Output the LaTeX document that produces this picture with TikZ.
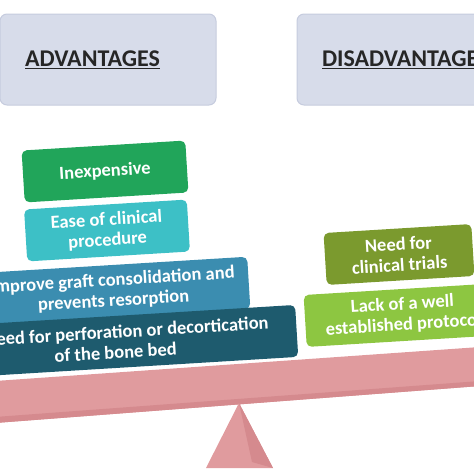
\documentclass[tikz,border=0pt]{standalone}
\usepackage{fontspec}
\setmainfont{Carlito}
\definecolor{headfill}{HTML}{D7DCEA}
\definecolor{headline}{HTML}{C6CCDE}
\definecolor{inexp}{HTML}{21A55A}
\definecolor{ease}{HTML}{3DC0C6}
\definecolor{graft}{HTML}{3B8DB0}
\definecolor{perfo}{HTML}{1E5B6E}
\definecolor{trial}{HTML}{7B9A2E}
\definecolor{proto}{HTML}{8DC641}
\definecolor{beam}{HTML}{E09B9E}
\definecolor{beamdark}{HTML}{D58A8E}
\begin{document}
\begin{tikzpicture}[x=1pt, y=-1pt,
  head/.style={draw=headline, fill=headfill, line width=1pt, rounded corners=7pt,
    text width=166pt, inner xsep=25pt, align=left, minimum height=91pt,
    font=\fontsize{24}{28}\selectfont\bfseries, text=black!85},
  card/.style={rounded corners=5pt, text=white, rotate=3.5, inner sep=0pt, align=center,
    font=\fontsize{18.5}{20.5}\selectfont\bfseries, minimum height=52pt}]
\useasboundingbox (0,0) rectangle (474,474);
\clip (0,0) rectangle (474,474);

\node[head] (adv) at (108,59.5) {\underline{ADVANTAGES}};
\node[head] (dis) at (405,59.5) {\underline{DISADVANTAGES}};

% balance
\fill[beam] (-5,381) -- (480,347) -- (480,386) -- (-5,423) -- cycle;
\fill[beamdark] (-5,417) -- (480,381) -- (480,386) -- (-5,423) -- cycle;
\fill[beam] (206,468) -- (273,468) -- (239,403) -- cycle;
\fill[beamdark] (239,403) -- (273,468) -- (252,462) -- cycle;

% advantages
\node[card, fill=inexp, minimum width=164pt] (inexp) at (105,171.5) {Inexpensive};
\node[card, fill=ease, minimum width=163pt] (ease) at (107,230.5) {Ease of clinical\\procedure};
\node[card, fill=graft, minimum width=272pt] (graft) at (113,291) {Improve graft consolidation and\\prevents resorption};
\node[card, fill=perfo, minimum width=364pt] (perfo) at (115,342) {No need for perforation or decortication\\of the bone bed};

% disadvantages
\node[card, fill=trial, minimum width=148pt] (trial) at (399,254.5) {Need for\\clinical trials};
\node[card, fill=proto, minimum width=196pt] (proto) at (403,315) {Lack of a well\\established protocol};
\end{tikzpicture}
\end{document}
